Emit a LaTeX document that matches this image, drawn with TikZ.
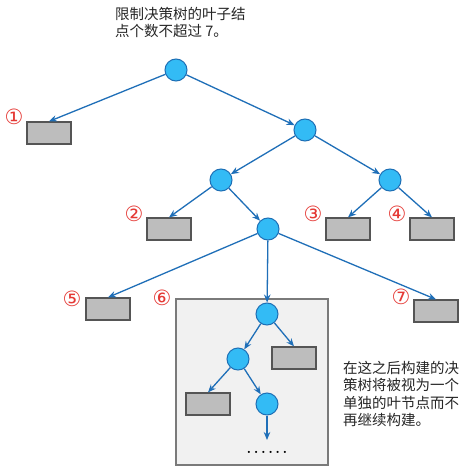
\documentclass[tikz,border=0pt]{standalone}
\usepackage{fontspec}
\newfontfamily\cjk{Noto Sans CJK SC}
\newfontfamily\symf{DejaVu Sans}
\usetikzlibrary{arrows.meta}
\definecolor{nodefill}{HTML}{33BBF5}
\definecolor{nodeedge}{HTML}{1E6FB5}
\definecolor{arrowc}{HTML}{1F6FB8}
\definecolor{leaffill}{HTML}{BDBDBD}
\definecolor{leafedge}{HTML}{555555}
\definecolor{boxfill}{HTML}{F1F1F1}
\definecolor{boxedge}{HTML}{7A7A7A}
\definecolor{numred}{HTML}{E53935}
\tikzset{
  inner/.style={circle, minimum size=22pt, inner sep=0pt, fill=nodefill, draw=nodeedge, line width=1pt},
  leaf/.style={rectangle, minimum width=44pt, minimum height=22pt, inner sep=0pt, fill=leaffill, draw=leafedge, line width=1.2pt},
  num/.style={text=numred, font=\symf\fontsize{21}{21}\selectfont, inner sep=0pt},
  conn/.style={draw=arrowc, line width=1.3pt, -{Stealth[length=8pt,width=6.5pt]}},
  txt/.style={font=\cjk\fontsize{14.5}{17.5}\selectfont, align=left, inner sep=0pt, text=black!85}
}
\begin{document}
\begin{tikzpicture}[x=1pt,y=-1pt]
\path[use as bounding box, fill=white] (0,0) rectangle (474,471);
% sub-tree box
\node[draw=boxedge, fill=boxfill, line width=1.2pt, minimum width=152pt, minimum height=166pt, inner sep=0pt] (box) at (252,382) {};
% title
\node[txt, anchor=north west] (title) at (115,7) {限制决策树的叶子结\\点个数不超过 7。};
% inner nodes
\node[inner] (root) at (176,70) {};
\node[inner] (a) at (305,130) {};
\node[inner] (b) at (221,180) {};
\node[inner] (c) at (390,180) {};
\node[inner] (d) at (268,229) {};
\node[inner] (e) at (267,314) {};
\node[inner] (f) at (238,359) {};
\node[inner] (g) at (267,404) {};
% leaves
\node[leaf] (l1) at (49,133) {};
\node[leaf] (l2) at (169,229) {};
\node[leaf] (l3) at (348,229) {};
\node[leaf] (l4) at (432,229) {};
\node[leaf] (l5) at (108,309) {};
\node[leaf] (l7) at (436,311) {};
\node[leaf] (le) at (294,358) {};
\node[leaf] (lf) at (208,404) {};
% labels
\node[num] (n1) at (14,117) {①};
\node[num] (n2) at (134,214) {②};
\node[num] (n3) at (313,214) {③};
\node[num] (n4) at (397,214) {④};
\node[num] (n5) at (72,299) {⑤};
\node[num] (n6) at (162,298) {⑥};
\node[num] (n7) at (401,297) {⑦};
% connectors
\draw[conn] (root) -- (l1.north);
\draw[conn] (root) -- (a);
\draw[conn] (a) -- (b);
\draw[conn] (a) -- (c);
\draw[conn] (b) -- (l2.north);
\draw[conn] (b) -- (d);
\draw[conn] (c) -- (l3.north);
\draw[conn] (c) -- (l4.north);
\draw[conn] (d) -- (l5.north);
\draw[conn] (d) -- (e);
\draw[conn] (d) -- (l7.north);
\draw[conn] (e) -- (f);
\draw[conn] (e) -- (le.north);
\draw[conn] (f) -- (lf.north);
\draw[conn] (f) -- (g);
\coordinate (gend) at (267,440);
\draw[conn] (g) -- (gend);
\node[font=\bfseries\fontsize{15}{15}\selectfont, inner sep=0pt] (dots) at (267,452) {.\,.\,.\,.\,.\,.};
% note
\node[txt, anchor=north west] (note) at (343,361) {在这之后构建的决\\策树将被视为一个\\单独的叶节点而不\\再继续构建。};
\end{tikzpicture}
\end{document}
